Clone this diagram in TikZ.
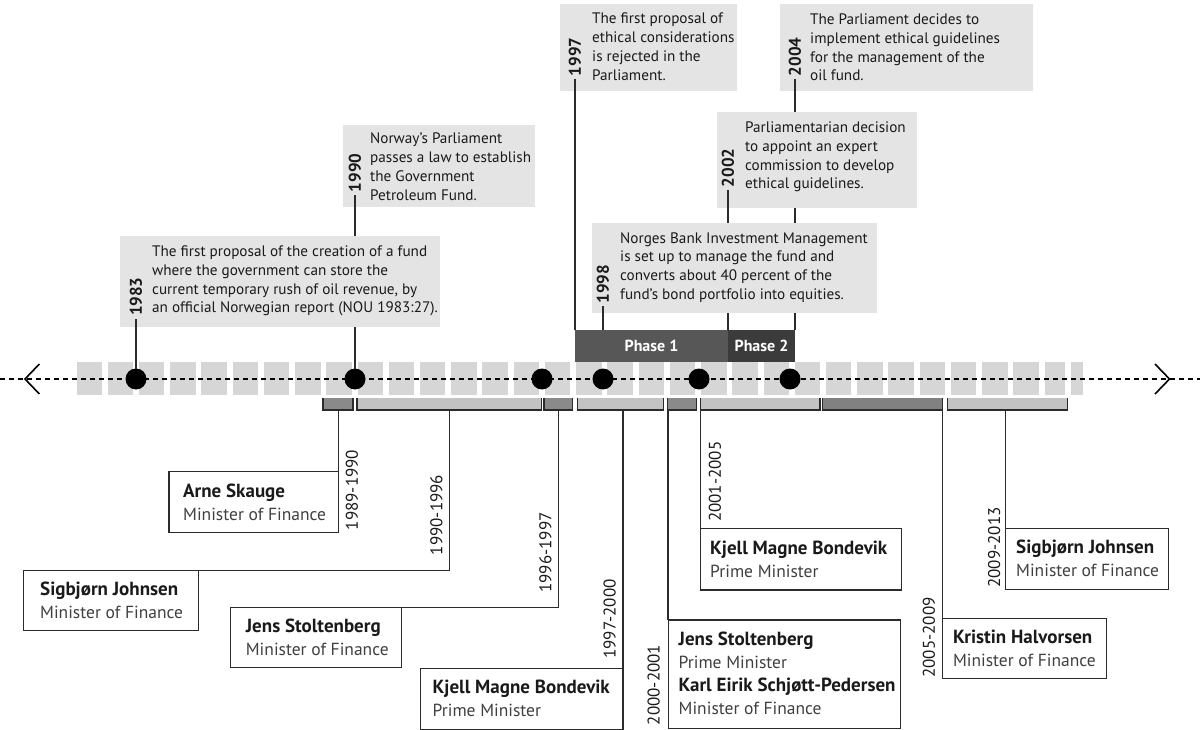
\documentclass[tikz,border=0pt]{standalone}
\usepackage{fontspec}
\setmainfont{PT Sans}
\definecolor{bandgray}{HTML}{D6D6D6}
\definecolor{boxgray}{HTML}{E4E4E4}
\definecolor{lightbar}{HTML}{C3C3C3}
\definecolor{darkbar}{HTML}{8A8A8A}
\definecolor{darkbarb}{HTML}{818181}
\definecolor{phaseone}{HTML}{575757}
\definecolor{phasetwo}{HTML}{3B3B3B}
\definecolor{linec}{HTML}{2B2B2B}
\definecolor{txt}{HTML}{1A1A1A}
\definecolor{subtxt}{HTML}{404040}
\newcommand{\nm}[1]{{\fontsize{19}{23}\selectfont\bfseries #1}}
\begin{document}
\begin{tikzpicture}[x=1pt,y=-1pt,
  axisline/.style={line width=2.2pt, dash pattern=on 5pt off 4pt, draw=black},
  chevron/.style={line width=1.6pt, draw=black},
  dot/.style={circle, fill=black, minimum size=21pt, inner sep=0pt, outer sep=0pt},
  phasebox/.style={anchor=north west, minimum height=32pt, inner sep=0pt, outer sep=0pt, text=white, font=\bfseries\fontsize{16}{16}\selectfont},
  tbar/.style={anchor=north west, minimum height=12pt, inner sep=0pt, outer sep=0pt},
  bracket/.style={draw=linec, line width=1.4pt},
  topbox/.style={anchor=north west, fill=boxgray, inner sep=0pt, outer sep=0pt},
  toptext/.style={anchor=west, align=left, inner sep=0pt, text=txt, font=\fontsize{15.2}{18.8}\selectfont},
  yearlbl/.style={rotate=90, inner xsep=3pt, inner ysep=0pt, text=txt, font=\bfseries\fontsize{17}{17}\selectfont},
  conn/.style={draw=linec, line width=1.3pt},
  namebox/.style={anchor=north west, draw=linec, line width=1.2pt, fill=white, inner sep=0pt, outer sep=0pt},
  nametext/.style={anchor=west, align=left, inner sep=0pt, text=txt, font=\fontsize{17.5}{23}\selectfont},
  termlbl/.style={rotate=90, inner sep=0pt, text=txt, font=\fontsize{17}{17}\selectfont}
]
\useasboundingbox (0,0) rectangle (1200,730);
\fill[white] (0,0) rectangle (1200,730);

% year band
\foreach \k in {0,...,30} \fill[bandgray] ({76.5+31.23*\k},362) rectangle ++(25.4,33);
\fill[bandgray] (1044.6,362) rectangle (1065,395);
\fill[bandgray] (1071,362) rectangle (1083,395);

% axis
\coordinate (axL) at (0,379);
\coordinate (axR) at (1200,379);
\draw[axisline] (axL) -- (axR);
\draw[chevron] (39.4,364) -- (25,379) -- (39.4,394);
\draw[chevron] (1155,364) -- (1169.5,379) -- (1155,394);

% dots
\node[dot] (d1983) at (136,379) {};
\node[dot] (d1990) at (355,379) {};
\node[dot] (d1996) at (542,379) {};
\node[dot] (d1998) at (603,379) {};
\node[dot] (d2001) at (699,379) {};
\node[dot] (d2004) at (790,379) {};

% phases
\node[phasebox, fill=phaseone, minimum width=153pt] (ph1) at (575,330) {Phase 1};
\node[phasebox, fill=phasetwo, minimum width=67pt] (ph2) at (728,330) {Phase 2};

% term bars
\node[tbar, fill=darkbar,  minimum width=30pt]    (t1) at (323,398) {};
\node[tbar, fill=lightbar, minimum width=184.5pt] (t2) at (357,398) {};
\node[tbar, fill=darkbar,  minimum width=28.7pt]  (t3) at (544,398) {};
\node[tbar, fill=lightbar, minimum width=86pt]    (t4) at (577.3,398) {};
\node[tbar, fill=darkbar,  minimum width=29.4pt]  (t5) at (667.3,398) {};
\node[tbar, fill=lightbar, minimum width=119.3pt] (t6) at (700.7,398) {};
\node[tbar, fill=darkbarb, minimum width=120pt]   (t7) at (822.3,398) {};
\node[tbar, fill=lightbar, minimum width=119.6pt] (t8) at (947.7,398) {};
\foreach \t in {t1,t2,t3,t4,t5,t6,t7,t8}
  \draw[bracket] (\t.north west) |- (\t.south east) -- (\t.north east);

% top boxes (drawn back to front)
\node[topbox, minimum width=253pt, minimum height=87pt] (b2004) at (780,4) {};
\node[yearlbl] (y2004) at (795,57) {2004};
\node[toptext] (x2004) at (810,47.5) {The Parliament decides to\\implement ethical guidelines\\for the management of the\\oil fund.};
\draw[conn] (ph2.north east) -- (y2004.west);

\node[topbox, minimum width=200pt, minimum height=96pt] (b2002) at (717,112) {};
\node[yearlbl] (y2002) at (728,168) {2002};
\node[toptext] (x2002) at (745,157) {Parliamentarian decision\\to appoint an expert\\commission to develop\\ethical guidelines.};
\draw[conn] (ph2.north west) -- (y2002.west);

\node[topbox, minimum width=285pt, minimum height=90pt] (b1998) at (592,223) {};
\node[yearlbl] (y1998) at (603,284) {1998};
\node[toptext] (x1998) at (620,267.5) {Norges Bank Investment Management\\is set up to manage the fund and\\converts about 40 percent of the\\fund’s bond portfolio into equities.};
\draw[conn] (y1998.west |- ph1.north) -- (y1998.west);

\node[topbox, minimum width=177pt, minimum height=87pt] (b1997) at (560,4) {};
\node[yearlbl] (y1997) at (575,57) {1997};
\node[toptext] (x1997) at (592,46.8) {The first proposal of\\ethical considerations\\is rejected in the\\Parliament.};
\draw[conn] (ph1.north west) -- (y1997.west);

\node[topbox, minimum width=192pt, minimum height=82pt] (b1990) at (343,125) {};
\node[yearlbl] (y1990) at (355,173) {1990};
\node[toptext] (x1990) at (370,166.7) {Norway’s Parliament\\passes a law to establish\\the Government\\Petroleum Fund.};
\draw[conn] (d1990.north) -- (y1990.west);

\node[topbox, minimum width=320pt, minimum height=91pt] (b1983) at (120,236) {};
\node[yearlbl] (y1983) at (136,296.7) {1983};
\node[toptext] (x1983) at (152,281) {The first proposal of the creation of a fund\\where the government can store the\\current temporary rush of oil revenue, by\\an official Norwegian report (NOU 1983:27).};
\draw[conn] (d1983.north) -- (y1983.west);

% name boxes
\node[namebox, minimum width=169.7pt, minimum height=60.6pt] (nb1) at (169,471.7) {};
\node[nametext] (nt1) at (183,502) {\nm{Arne Skauge}\\\textcolor{subtxt}{Minister of Finance}};
\draw[conn] (nb1.north east |- t1.south) -- (nb1.north east);
\node[termlbl] (l1) at (352,490) {1989-1990};

\node[namebox, minimum width=174.5pt, minimum height=60pt] (nb2) at (23.7,570.7) {};
\node[nametext] (nt2) at (40,600.7) {\nm{Sigbjørn Johnsen}\\\textcolor{subtxt}{Minister of Finance}};
\draw[conn] (t2.south) |- (nb2.north east);
\node[termlbl] (l2) at (436.3,515) {1990-1996};

\node[namebox, minimum width=171.4pt, minimum height=60pt] (nb3) at (230.4,607.3) {};
\node[nametext] (nt3) at (245.7,637.3) {\nm{Jens Stoltenberg}\\\textcolor{subtxt}{Minister of Finance}};
\draw[conn] (t3.south) |- (nb3.north east);
\node[termlbl] (l3) at (545.3,552.5) {1996-1997};

\node[namebox, minimum width=202.8pt, minimum height=61pt] (nb4) at (420.2,668.3) {};
\node[nametext] (nt4) at (432.5,698.7) {\nm{Kjell Magne Bondevik}\\\textcolor{subtxt}{Prime Minister}};
\draw[conn] (nb4.north east |- t4.south) -- (nb4.north east);
\node[termlbl] (l4) at (609.6,619) {1997-2000};

\node[namebox, minimum width=232.7pt, minimum height=108.3pt] (nb5) at (668.1,620) {};
\node[nametext, font=\fontsize{17.5}{22.7}\selectfont] (nt5) at (678.5,673.3) {\nm{Jens Stoltenberg}\\\textcolor{subtxt}{Prime Minister}\\\nm{Karl Eirik Schjøtt-Pedersen}\\\textcolor{subtxt}{Minister of Finance}};
\draw[conn] (nb5.north west |- t5.south) -- (nb5.north west);
\node[termlbl] (l5) at (653.6,685) {2000-2001};

\node[namebox, minimum width=200.6pt, minimum height=61.7pt] (nb6) at (700.6,528.3) {};
\node[nametext] (nt6) at (710,559) {\nm{Kjell Magne Bondevik}\\\textcolor{subtxt}{Prime Minister}};
\draw[conn] (nb6.north west |- t6.south) -- (nb6.north west);
\node[termlbl] (l6) at (714.8,481.7) {2001-2005};

\node[namebox, minimum width=163.8pt, minimum height=60pt] (nb7) at (942.5,618.3) {};
\node[nametext] (nt7) at (952.8,648.3) {\nm{Kristin Halvorsen}\\\textcolor{subtxt}{Minister of Finance}};
\draw[conn] (nb7.north west |- t7.south) -- (nb7.north west);
\node[termlbl] (l7) at (929,637.5) {2005-2009};

\node[namebox, minimum width=162.6pt, minimum height=61pt] (nb8) at (1005.7,528.3) {};
\node[nametext] (nt8) at (1016,558.8) {\nm{Sigbjørn Johnsen}\\\textcolor{subtxt}{Minister of Finance}};
\draw[conn] (nb8.north west |- t8.south) -- (nb8.north west);
\node[termlbl] (l8) at (994.2,547.5) {2009-2013};
\end{tikzpicture}
\end{document}
